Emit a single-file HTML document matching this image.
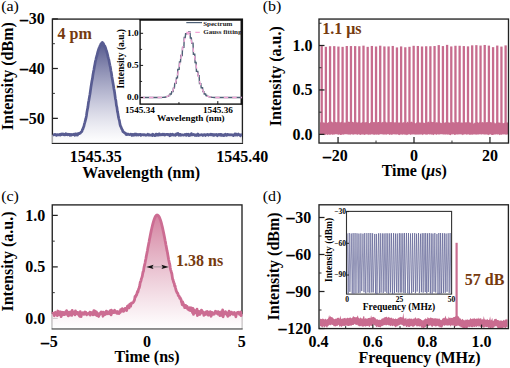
<!DOCTYPE html>
<html><head><meta charset="utf-8"><style>
html,body{margin:0;padding:0;background:#fff;}
svg{display:block;font-family:'Liberation Serif',serif;}
</style></head><body>
<svg width="510" height="368" viewBox="0 0 510 368">
<rect width="510" height="368" fill="#fff"/>
<text transform="translate(10.00,10.60) scale(1,0.87)" font-size="16" text-anchor="middle" font-weight="normal" fill="#000" >(a)</text>
<defs><linearGradient id="ga" x1="0" y1="42" x2="0" y2="143" gradientUnits="userSpaceOnUse"><stop offset="0" stop-color="#53578c"/><stop offset="0.55" stop-color="#b4b5cf" stop-opacity="0.85"/><stop offset="1" stop-color="#ffffff" stop-opacity="0.6"/></linearGradient><linearGradient id="gc" x1="0" y1="215" x2="0" y2="329" gradientUnits="userSpaceOnUse"><stop offset="0" stop-color="#d3819f"/><stop offset="1" stop-color="#ffffff" stop-opacity="0.8"/></linearGradient></defs>
<rect x="52.4" y="19.1" width="190.0" height="124.20000000000002" fill="none" stroke="#222" stroke-width="1.35"/>
<line x1="52.40" y1="18.90" x2="57.90" y2="18.90" stroke="#222" stroke-width="1.25"/>
<text transform="translate(45.50,24.20) scale(1,1.0)" font-size="16" text-anchor="end" font-weight="bold" fill="#000" ><tspan dx="-0.7" dy="0.5" stroke="#000" stroke-width="0.3">–</tspan><tspan dx="0.7" dy="-0.5">30</tspan></text>
<line x1="52.40" y1="68.50" x2="57.90" y2="68.50" stroke="#222" stroke-width="1.25"/>
<text transform="translate(45.50,73.80) scale(1,1.0)" font-size="16" text-anchor="end" font-weight="bold" fill="#000" ><tspan dx="-0.7" dy="0.5" stroke="#000" stroke-width="0.3">–</tspan><tspan dx="0.7" dy="-0.5">40</tspan></text>
<line x1="52.40" y1="118.35" x2="57.90" y2="118.35" stroke="#222" stroke-width="1.25"/>
<text transform="translate(45.50,123.65) scale(1,1.0)" font-size="16" text-anchor="end" font-weight="bold" fill="#000" ><tspan dx="-0.7" dy="0.5" stroke="#000" stroke-width="0.3">–</tspan><tspan dx="0.7" dy="-0.5">50</tspan></text>
<line x1="52.40" y1="43.70" x2="54.90" y2="43.70" stroke="#333" stroke-width="1.0"/>
<line x1="52.40" y1="93.40" x2="54.90" y2="93.40" stroke="#333" stroke-width="1.0"/>
<polygon points="51.50,134.80 52.90,134.80 53.40,134.94 53.90,134.68 54.40,134.40 54.90,134.60 55.40,134.36 55.90,134.83 56.40,135.41 56.90,134.58 57.40,134.52 57.90,135.02 58.40,134.96 58.90,134.85 59.40,134.38 59.90,134.79 60.40,135.12 60.90,134.20 61.40,134.60 61.90,133.95 62.40,134.22 62.90,133.97 63.40,134.70 63.90,134.23 64.40,134.92 64.90,134.87 65.40,134.72 65.90,133.67 66.40,134.56 66.90,134.78 67.40,134.85 67.90,134.11 68.40,134.58 68.90,134.35 69.40,134.42 69.90,135.26 70.40,134.41 70.90,134.76 71.40,135.16 71.90,134.49 72.40,134.69 72.90,134.77 73.40,134.73 73.90,134.13 74.40,134.68 74.90,135.22 75.40,133.87 75.90,134.89 76.40,134.49 76.90,134.05 77.40,135.13 77.90,134.44 78.40,133.38 78.90,133.74 79.40,133.70 79.90,133.03 80.40,133.01 80.90,132.18 81.40,131.89 81.90,131.50 82.40,129.65 82.90,128.98 83.40,127.42 83.90,126.21 84.40,123.93 84.90,122.29 85.40,120.32 85.90,118.45 86.40,115.99 86.90,112.14 87.40,109.48 87.90,107.10 88.40,102.78 88.90,100.27 89.40,97.20 89.90,94.55 90.40,91.04 90.90,87.36 91.40,84.15 91.90,81.08 92.40,78.82 92.90,74.96 93.40,72.13 93.90,69.65 94.40,66.76 94.90,64.16 95.40,61.31 95.90,59.49 96.40,57.11 96.90,55.79 97.40,53.65 97.90,51.58 98.40,50.28 98.90,48.37 99.40,47.70 99.90,46.09 100.40,45.40 100.90,43.78 101.40,43.93 101.90,42.65 102.40,42.39 102.90,43.39 103.40,43.58 103.90,44.72 104.40,46.51 104.90,46.15 105.40,47.44 105.90,49.18 106.40,50.83 106.90,52.20 107.40,54.01 107.90,56.38 108.40,58.40 108.90,59.94 109.40,62.74 109.90,65.28 110.40,67.39 110.90,70.70 111.40,73.03 111.90,76.77 112.40,79.43 112.90,82.47 113.40,85.32 113.90,88.74 114.40,91.13 114.90,94.78 115.40,98.70 115.90,100.81 116.40,105.32 116.90,107.24 117.40,111.35 117.90,113.47 118.40,116.88 118.90,119.07 119.40,120.60 119.90,123.90 120.40,125.82 120.90,126.74 121.40,128.03 121.90,129.27 122.40,129.90 122.90,131.66 123.40,131.61 123.90,132.40 124.40,132.52 124.90,132.97 125.40,132.98 125.90,134.36 126.40,133.93 126.90,134.59 127.40,134.29 127.90,134.07 128.40,134.32 128.90,134.28 129.40,134.59 129.90,134.46 130.40,134.52 130.90,134.07 131.40,134.35 131.90,135.47 132.40,134.44 132.90,134.28 133.40,134.92 133.90,135.41 134.40,134.12 134.90,134.69 135.40,134.50 135.90,134.00 136.40,135.12 136.90,134.79 137.40,134.83 137.90,134.46 138.40,135.00 138.90,134.56 139.40,134.74 139.90,134.30 140.40,134.26 140.90,135.40 141.40,134.57 141.90,134.93 142.40,134.79 142.90,134.60 143.40,134.57 143.90,135.09 144.40,134.67 144.90,134.74 145.40,134.81 145.90,135.33 146.40,135.11 146.90,134.98 147.40,134.55 147.90,134.18 148.40,135.23 148.90,135.24 149.40,134.74 149.90,135.05 150.40,135.16 150.90,135.18 151.40,135.22 151.90,134.60 152.40,135.49 152.90,134.24 153.40,135.19 153.90,135.03 154.40,135.20 154.90,135.65 155.40,135.47 155.90,134.29 156.40,134.04 156.90,135.17 157.40,134.35 157.90,134.80 158.40,135.18 158.90,134.06 159.40,133.85 159.90,134.92 160.40,134.82 160.90,134.69 161.40,134.82 161.90,134.42 162.40,134.12 162.90,134.73 163.40,134.37 163.90,134.06 164.40,135.03 164.90,134.78 165.40,134.99 165.90,134.36 166.40,134.51 166.90,134.35 167.40,134.40 167.90,134.89 168.40,134.45 168.90,134.96 169.40,134.96 169.90,135.72 170.40,134.18 170.90,135.20 171.40,134.76 171.90,134.80 172.40,134.15 172.90,134.60 173.40,135.14 173.90,134.77 174.40,134.84 174.90,134.67 175.40,135.32 175.90,134.79 176.40,133.81 176.90,134.49 177.40,133.92 177.90,133.34 178.40,134.57 178.90,135.40 179.40,134.82 179.90,134.28 180.40,134.38 180.90,135.31 181.40,134.87 181.90,134.83 182.40,134.78 182.90,134.82 183.40,135.17 183.90,135.05 184.40,134.90 184.90,134.33 185.40,135.03 185.90,134.50 186.40,135.30 186.90,134.23 187.40,134.74 187.90,134.80 188.40,134.21 188.90,135.58 189.40,135.46 189.90,134.60 190.40,135.15 190.90,134.97 191.40,133.63 191.90,134.92 192.40,134.78 192.90,134.84 193.40,134.32 193.90,134.68 194.40,134.72 194.90,135.34 195.40,134.95 195.90,134.80 196.40,135.49 196.90,134.55 197.40,134.63 197.90,133.99 198.40,135.51 198.90,135.24 199.40,135.22 199.90,135.10 200.40,134.85 200.90,134.90 201.40,134.69 201.90,134.71 202.40,134.83 202.90,135.48 203.40,135.05 203.90,134.78 204.40,134.54 204.90,134.52 205.40,135.52 205.90,135.03 206.40,134.83 206.90,134.65 207.40,134.30 207.90,134.77 208.40,135.20 208.90,134.63 209.40,134.70 209.90,134.70 210.40,134.85 210.90,134.09 211.40,134.70 211.90,134.42 212.40,135.20 212.90,134.46 213.40,135.06 213.90,135.49 214.40,134.66 214.90,134.53 215.40,134.89 215.90,134.80 216.40,134.36 216.90,135.01 217.40,135.71 217.90,134.69 218.40,134.71 218.90,134.33 219.40,134.95 219.90,134.24 220.40,134.31 220.90,135.38 221.40,134.40 221.90,135.29 222.40,135.49 222.90,134.92 223.40,135.05 223.90,135.68 224.40,134.72 224.90,134.54 225.40,134.19 225.90,134.82 226.40,135.47 226.90,135.24 227.40,134.38 227.90,134.42 228.40,134.58 228.90,134.94 229.40,134.71 229.90,134.90 230.40,134.94 230.90,134.67 231.40,134.79 231.90,134.90 232.40,134.77 232.90,135.03 233.40,135.65 233.90,135.07 234.40,134.83 234.90,134.04 235.40,134.98 235.90,133.93 236.40,134.17 236.90,135.19 237.40,135.12 237.90,134.74 238.40,134.03 238.90,134.64 239.40,134.50 239.90,135.09 240.40,135.82 240.90,134.90 241.40,134.45 241.90,134.28 242.40,142.90 51.50,142.90" fill="url(#ga)"/>
<polyline points="52.90,134.80 53.40,134.94 53.90,134.68 54.40,134.40 54.90,134.60 55.40,134.36 55.90,134.83 56.40,135.41 56.90,134.58 57.40,134.52 57.90,135.02 58.40,134.96 58.90,134.85 59.40,134.38 59.90,134.79 60.40,135.12 60.90,134.20 61.40,134.60 61.90,133.95 62.40,134.22 62.90,133.97 63.40,134.70 63.90,134.23 64.40,134.92 64.90,134.87 65.40,134.72 65.90,133.67 66.40,134.56 66.90,134.78 67.40,134.85 67.90,134.11 68.40,134.58 68.90,134.35 69.40,134.42 69.90,135.26 70.40,134.41 70.90,134.76 71.40,135.16 71.90,134.49 72.40,134.69 72.90,134.77 73.40,134.73 73.90,134.13 74.40,134.68 74.90,135.22 75.40,133.87 75.90,134.89 76.40,134.49 76.90,134.05 77.40,135.13 77.90,134.44 78.40,133.38 78.90,133.74 79.40,133.70 79.90,133.03 80.40,133.01 80.90,132.18 81.40,131.89 81.90,131.50 82.40,129.65 82.90,128.98 83.40,127.42 83.90,126.21 84.40,123.93 84.90,122.29 85.40,120.32 85.90,118.45 86.40,115.99 86.90,112.14 87.40,109.48 87.90,107.10 88.40,102.78 88.90,100.27 89.40,97.20 89.90,94.55 90.40,91.04 90.90,87.36 91.40,84.15 91.90,81.08 92.40,78.82 92.90,74.96 93.40,72.13 93.90,69.65 94.40,66.76 94.90,64.16 95.40,61.31 95.90,59.49 96.40,57.11 96.90,55.79 97.40,53.65 97.90,51.58 98.40,50.28 98.90,48.37 99.40,47.70 99.90,46.09 100.40,45.40 100.90,43.78 101.40,43.93 101.90,42.65 102.40,42.39 102.90,43.39 103.40,43.58 103.90,44.72 104.40,46.51 104.90,46.15 105.40,47.44 105.90,49.18 106.40,50.83 106.90,52.20 107.40,54.01 107.90,56.38 108.40,58.40 108.90,59.94 109.40,62.74 109.90,65.28 110.40,67.39 110.90,70.70 111.40,73.03 111.90,76.77 112.40,79.43 112.90,82.47 113.40,85.32 113.90,88.74 114.40,91.13 114.90,94.78 115.40,98.70 115.90,100.81 116.40,105.32 116.90,107.24 117.40,111.35 117.90,113.47 118.40,116.88 118.90,119.07 119.40,120.60 119.90,123.90 120.40,125.82 120.90,126.74 121.40,128.03 121.90,129.27 122.40,129.90 122.90,131.66 123.40,131.61 123.90,132.40 124.40,132.52 124.90,132.97 125.40,132.98 125.90,134.36 126.40,133.93 126.90,134.59 127.40,134.29 127.90,134.07 128.40,134.32 128.90,134.28 129.40,134.59 129.90,134.46 130.40,134.52 130.90,134.07 131.40,134.35 131.90,135.47 132.40,134.44 132.90,134.28 133.40,134.92 133.90,135.41 134.40,134.12 134.90,134.69 135.40,134.50 135.90,134.00 136.40,135.12 136.90,134.79 137.40,134.83 137.90,134.46 138.40,135.00 138.90,134.56 139.40,134.74 139.90,134.30 140.40,134.26 140.90,135.40 141.40,134.57 141.90,134.93 142.40,134.79 142.90,134.60 143.40,134.57 143.90,135.09 144.40,134.67 144.90,134.74 145.40,134.81 145.90,135.33 146.40,135.11 146.90,134.98 147.40,134.55 147.90,134.18 148.40,135.23 148.90,135.24 149.40,134.74 149.90,135.05 150.40,135.16 150.90,135.18 151.40,135.22 151.90,134.60 152.40,135.49 152.90,134.24 153.40,135.19 153.90,135.03 154.40,135.20 154.90,135.65 155.40,135.47 155.90,134.29 156.40,134.04 156.90,135.17 157.40,134.35 157.90,134.80 158.40,135.18 158.90,134.06 159.40,133.85 159.90,134.92 160.40,134.82 160.90,134.69 161.40,134.82 161.90,134.42 162.40,134.12 162.90,134.73 163.40,134.37 163.90,134.06 164.40,135.03 164.90,134.78 165.40,134.99 165.90,134.36 166.40,134.51 166.90,134.35 167.40,134.40 167.90,134.89 168.40,134.45 168.90,134.96 169.40,134.96 169.90,135.72 170.40,134.18 170.90,135.20 171.40,134.76 171.90,134.80 172.40,134.15 172.90,134.60 173.40,135.14 173.90,134.77 174.40,134.84 174.90,134.67 175.40,135.32 175.90,134.79 176.40,133.81 176.90,134.49 177.40,133.92 177.90,133.34 178.40,134.57 178.90,135.40 179.40,134.82 179.90,134.28 180.40,134.38 180.90,135.31 181.40,134.87 181.90,134.83 182.40,134.78 182.90,134.82 183.40,135.17 183.90,135.05 184.40,134.90 184.90,134.33 185.40,135.03 185.90,134.50 186.40,135.30 186.90,134.23 187.40,134.74 187.90,134.80 188.40,134.21 188.90,135.58 189.40,135.46 189.90,134.60 190.40,135.15 190.90,134.97 191.40,133.63 191.90,134.92 192.40,134.78 192.90,134.84 193.40,134.32 193.90,134.68 194.40,134.72 194.90,135.34 195.40,134.95 195.90,134.80 196.40,135.49 196.90,134.55 197.40,134.63 197.90,133.99 198.40,135.51 198.90,135.24 199.40,135.22 199.90,135.10 200.40,134.85 200.90,134.90 201.40,134.69 201.90,134.71 202.40,134.83 202.90,135.48 203.40,135.05 203.90,134.78 204.40,134.54 204.90,134.52 205.40,135.52 205.90,135.03 206.40,134.83 206.90,134.65 207.40,134.30 207.90,134.77 208.40,135.20 208.90,134.63 209.40,134.70 209.90,134.70 210.40,134.85 210.90,134.09 211.40,134.70 211.90,134.42 212.40,135.20 212.90,134.46 213.40,135.06 213.90,135.49 214.40,134.66 214.90,134.53 215.40,134.89 215.90,134.80 216.40,134.36 216.90,135.01 217.40,135.71 217.90,134.69 218.40,134.71 218.90,134.33 219.40,134.95 219.90,134.24 220.40,134.31 220.90,135.38 221.40,134.40 221.90,135.29 222.40,135.49 222.90,134.92 223.40,135.05 223.90,135.68 224.40,134.72 224.90,134.54 225.40,134.19 225.90,134.82 226.40,135.47 226.90,135.24 227.40,134.38 227.90,134.42 228.40,134.58 228.90,134.94 229.40,134.71 229.90,134.90 230.40,134.94 230.90,134.67 231.40,134.79 231.90,134.90 232.40,134.77 232.90,135.03 233.40,135.65 233.90,135.07 234.40,134.83 234.90,134.04 235.40,134.98 235.90,133.93 236.40,134.17 236.90,135.19 237.40,135.12 237.90,134.74 238.40,134.03 238.90,134.64 239.40,134.50 239.90,135.09 240.40,135.82 240.90,134.90 241.40,134.45 241.90,134.28" fill="none" stroke="#585c92" stroke-width="2.7" stroke-linejoin="round"/>
<text transform="translate(95.70,162.00) scale(1,1.0)" font-size="16" text-anchor="middle" font-weight="bold" fill="#000" >1545.35</text>
<text transform="translate(242.20,162.00) scale(1,1.0)" font-size="16" text-anchor="middle" font-weight="bold" fill="#000" >1545.40</text>
<text transform="translate(141.20,177.50) scale(1,1.0)" font-size="16" text-anchor="middle" font-weight="bold" fill="#000" >Wavelength (nm)</text>
<text transform="translate(13.00,76.20) rotate(-90) scale(1,1.0)" font-size="16" text-anchor="middle" font-weight="bold" fill="#000">Intensity (dBm)</text>
<text transform="translate(57.50,38.70) scale(1,1.0)" font-size="16" text-anchor="start" font-weight="bold" fill="#763a0e" >4 pm</text>
<rect x="140.1" y="19.8" width="101.5" height="84.3" fill="#fff" stroke="#111" stroke-width="1.4"/>
<line x1="241.60" y1="19.00" x2="241.60" y2="104.60" stroke="#111" stroke-width="2.0"/>
<line x1="139.60" y1="19.80" x2="241.60" y2="19.80" stroke="#111" stroke-width="1.6"/>
<polyline points="140.49,97.50 140.83,97.50 141.17,97.50 141.51,97.50 141.85,97.50 142.18,97.50 142.52,97.50 142.86,97.50 143.20,97.50 143.54,97.50 143.88,97.50 144.22,97.50 144.56,97.50 144.90,97.50 145.24,97.50 145.58,97.50 145.91,97.50 146.25,97.50 146.59,97.50 146.93,97.50 147.27,97.50 147.61,97.50 147.95,97.50 148.29,97.50 148.63,97.50 148.97,97.50 149.31,97.50 149.64,97.50 149.98,97.50 150.32,97.50 150.66,97.50 151.00,97.50 151.34,97.50 151.68,97.50 152.02,97.50 152.36,97.50 152.70,97.50 153.04,97.50 153.38,97.50 153.71,97.50 154.05,97.50 154.39,97.50 154.73,97.50 155.07,97.50 155.41,97.50 155.75,97.50 156.09,97.50 156.43,97.50 156.77,97.50 157.11,97.50 157.44,97.50 157.78,97.49 158.12,97.49 158.46,97.49 158.80,97.49 159.14,97.47 159.48,97.47 159.82,97.47 160.16,97.47 160.50,97.47 160.84,97.44 161.18,97.44 161.51,97.44 161.85,97.44 162.19,97.36 162.53,97.36 162.87,97.36 163.21,97.36 163.55,97.36 163.89,97.20 164.23,97.20 164.57,97.20 164.91,97.20 165.24,97.20 165.58,96.91 165.92,96.91 166.26,96.91 166.60,96.91 166.94,96.37 167.28,96.37 167.62,96.37 167.96,96.37 168.30,96.37 168.64,95.44 168.98,95.44 169.31,95.44 169.65,95.44 169.99,93.93 170.33,93.93 170.67,93.93 171.01,93.93 171.35,93.93 171.69,91.61 172.03,91.61 172.37,91.61 172.71,91.61 173.04,91.61 173.38,88.17 173.72,88.17 174.06,88.17 174.40,88.17 174.74,83.39 175.08,83.39 175.42,83.39 175.76,83.39 176.10,83.39 176.44,77.85 176.77,77.85 177.11,77.85 177.45,77.85 177.79,69.35 178.13,69.35 178.47,69.35 178.81,69.35 179.15,69.35 179.49,61.91 179.83,61.91 180.17,61.91 180.51,61.91 180.84,55.55 181.18,55.55 181.52,55.55 181.86,55.55 182.20,55.55 182.54,47.41 182.88,47.41 183.22,47.41 183.56,47.41 183.90,47.41 184.24,37.51 184.57,37.51 184.91,37.51 185.25,37.51 185.59,33.80 185.93,33.80 186.27,33.80 186.61,33.80 186.95,33.80 187.29,33.30 187.63,33.30 187.97,33.30 188.31,33.30 188.64,31.86 188.98,31.86 189.32,31.86 189.66,31.86 190.00,31.86 190.34,37.93 190.68,37.93 191.02,37.93 191.36,37.93 191.70,43.29 192.04,43.29 192.37,43.29 192.71,43.29 193.05,43.29 193.39,54.28 193.73,54.28 194.07,54.28 194.41,54.28 194.75,54.28 195.09,62.53 195.43,62.53 195.77,62.53 196.11,62.53 196.44,71.40 196.78,71.40 197.12,71.40 197.46,71.40 197.80,71.40 198.14,75.82 198.48,75.82 198.82,75.82 199.16,75.82 199.50,83.67 199.84,83.67 200.17,83.67 200.51,83.67 200.85,83.67 201.19,87.71 201.53,87.71 201.87,87.71 202.21,87.71 202.55,87.71 202.89,91.61 203.23,91.61 203.57,91.61 203.90,91.61 204.24,93.93 204.58,93.93 204.92,93.93 205.26,93.93 205.60,93.93 205.94,95.44 206.28,95.44 206.62,95.44 206.96,95.44 207.30,96.37 207.64,96.37 207.97,96.37 208.31,96.37 208.65,96.37 208.99,96.91 209.33,96.91 209.67,96.91 210.01,96.91 210.35,97.20 210.69,97.20 211.03,97.20 211.37,97.20 211.70,97.20 212.04,97.36 212.38,97.36 212.72,97.36 213.06,97.36 213.40,97.36 213.74,97.44 214.08,97.44 214.42,97.44 214.76,97.44 215.10,97.47 215.44,97.47 215.77,97.47 216.11,97.47 216.45,97.47 216.79,97.49 217.13,97.49 217.47,97.49 217.81,97.49 218.15,97.50 218.49,97.50 218.83,97.50 219.17,97.50 219.50,97.50 219.84,97.50 220.18,97.50 220.52,97.50 220.86,97.50 221.20,97.50 221.54,97.50 221.88,97.50 222.22,97.50 222.56,97.50 222.90,97.50 223.24,97.50 223.57,97.50 223.91,97.50 224.25,97.50 224.59,97.50 224.93,97.50 225.27,97.50 225.61,97.50 225.95,97.50 226.29,97.50 226.63,97.50 226.97,97.50 227.30,97.50 227.64,97.50 227.98,97.50 228.32,97.50 228.66,97.50 229.00,97.50 229.34,97.50 229.68,97.50 230.02,97.50 230.36,97.50 230.70,97.50 231.03,97.50 231.37,97.50 231.71,97.50 232.05,97.50 232.39,97.50 232.73,97.50 233.07,97.50 233.41,97.50 233.75,97.50 234.09,97.50 234.43,97.50 234.77,97.50 235.10,97.50 235.44,97.50 235.78,97.50 236.12,97.50 236.46,97.50 236.80,97.50 237.14,97.50 237.48,97.50 237.82,97.50 238.16,97.50 238.50,97.50 238.83,97.50 239.17,97.50 239.51,97.50 239.85,97.50 240.19,97.50 240.53,97.50 240.87,97.50 241.21,97.50 241.55,97.50 241.89,97.50" fill="none" stroke="#4e6076" stroke-width="1.4"/>
<polyline points="140.49,97.50 140.83,97.50 141.17,97.50 141.51,97.50 141.85,97.50 142.18,97.50 142.52,97.50 142.86,97.50 143.20,97.50 143.54,97.50 143.88,97.50 144.22,97.50 144.56,97.50 144.90,97.50 145.24,97.50 145.58,97.50 145.91,97.50 146.25,97.50 146.59,97.50 146.93,97.50 147.27,97.50 147.61,97.50 147.95,97.50 148.29,97.50 148.63,97.50 148.97,97.50 149.31,97.50 149.64,97.50 149.98,97.50 150.32,97.50 150.66,97.50 151.00,97.50 151.34,97.50 151.68,97.50 152.02,97.50 152.36,97.50 152.70,97.50 153.04,97.50 153.38,97.50 153.71,97.50 154.05,97.50 154.39,97.50 154.73,97.50 155.07,97.50 155.41,97.50 155.75,97.50 156.09,97.50 156.43,97.50 156.77,97.50 157.11,97.49 157.44,97.49 157.78,97.49 158.12,97.49 158.46,97.49 158.80,97.48 159.14,97.48 159.48,97.48 159.82,97.47 160.16,97.47 160.50,97.46 160.84,97.45 161.18,97.44 161.51,97.43 161.85,97.42 162.19,97.40 162.53,97.38 162.87,97.36 163.21,97.34 163.55,97.31 163.89,97.28 164.23,97.24 164.57,97.19 164.91,97.14 165.24,97.08 165.58,97.02 165.92,96.94 166.26,96.85 166.60,96.75 166.94,96.64 167.28,96.51 167.62,96.36 167.96,96.20 168.30,96.01 168.64,95.81 168.98,95.58 169.31,95.32 169.65,95.04 169.99,94.72 170.33,94.37 170.67,93.99 171.01,93.56 171.35,93.10 171.69,92.59 172.03,92.03 172.37,91.43 172.71,90.78 173.04,90.07 173.38,89.30 173.72,88.48 174.06,87.60 174.40,86.65 174.74,85.64 175.08,84.57 175.42,83.44 175.76,82.23 176.10,80.97 176.44,79.64 176.77,78.24 177.11,76.79 177.45,75.27 177.79,73.70 178.13,72.07 178.47,70.40 178.81,68.68 179.15,66.92 179.49,65.13 179.83,63.31 180.17,61.47 180.51,59.62 180.84,57.76 181.18,55.91 181.52,54.07 181.86,52.25 182.20,50.46 182.54,48.71 182.88,47.01 183.22,45.38 183.56,43.81 183.90,42.32 184.24,40.91 184.57,39.61 184.91,38.40 185.25,37.31 185.59,36.34 185.93,35.50 186.27,34.78 186.61,34.21 186.95,33.77 187.29,33.47 187.63,33.32 187.97,33.32 188.31,33.46 188.64,33.74 188.98,34.17 189.32,34.74 189.66,35.45 190.00,36.28 190.34,37.25 190.68,38.33 191.02,39.52 191.36,40.82 191.70,42.22 192.04,43.70 192.37,45.27 192.71,46.90 193.05,48.60 193.39,50.34 193.73,52.13 194.07,53.94 194.41,55.78 194.75,57.64 195.09,59.49 195.43,61.35 195.77,63.19 196.11,65.01 196.44,66.80 196.78,68.56 197.12,70.29 197.46,71.96 197.80,73.59 198.14,75.17 198.48,76.69 198.82,78.15 199.16,79.55 199.50,80.88 199.84,82.15 200.17,83.36 200.51,84.50 200.85,85.57 201.19,86.59 201.53,87.54 201.87,88.42 202.21,89.25 202.55,90.02 202.89,90.73 203.23,91.39 203.57,91.99 203.90,92.55 204.24,93.06 204.58,93.53 204.92,93.96 205.26,94.35 205.60,94.70 205.94,95.02 206.28,95.30 206.62,95.56 206.96,95.79 207.30,96.00 207.64,96.19 207.97,96.35 208.31,96.50 208.65,96.63 208.99,96.74 209.33,96.84 209.67,96.93 210.01,97.01 210.35,97.08 210.69,97.14 211.03,97.19 211.37,97.23 211.70,97.27 212.04,97.31 212.38,97.34 212.72,97.36 213.06,97.38 213.40,97.40 213.74,97.42 214.08,97.43 214.42,97.44 214.76,97.45 215.10,97.46 215.44,97.47 215.77,97.47 216.11,97.48 216.45,97.48 216.79,97.48 217.13,97.49 217.47,97.49 217.81,97.49 218.15,97.49 218.49,97.49 218.83,97.50 219.17,97.50 219.50,97.50 219.84,97.50 220.18,97.50 220.52,97.50 220.86,97.50 221.20,97.50 221.54,97.50 221.88,97.50 222.22,97.50 222.56,97.50 222.90,97.50 223.24,97.50 223.57,97.50 223.91,97.50 224.25,97.50 224.59,97.50 224.93,97.50 225.27,97.50 225.61,97.50 225.95,97.50 226.29,97.50 226.63,97.50 226.97,97.50 227.30,97.50 227.64,97.50 227.98,97.50 228.32,97.50 228.66,97.50 229.00,97.50 229.34,97.50 229.68,97.50 230.02,97.50 230.36,97.50 230.70,97.50 231.03,97.50 231.37,97.50 231.71,97.50 232.05,97.50 232.39,97.50 232.73,97.50 233.07,97.50 233.41,97.50 233.75,97.50 234.09,97.50 234.43,97.50 234.77,97.50 235.10,97.50 235.44,97.50 235.78,97.50 236.12,97.50 236.46,97.50 236.80,97.50 237.14,97.50 237.48,97.50 237.82,97.50 238.16,97.50 238.50,97.50 238.83,97.50 239.17,97.50 239.51,97.50 239.85,97.50 240.19,97.50 240.53,97.50 240.87,97.50 241.21,97.50 241.55,97.50 241.89,97.50" fill="none" stroke="#f2a6d6" stroke-width="1.3" stroke-dasharray="4.5 4"/>
<line x1="140.10" y1="97.50" x2="143.10" y2="97.50" stroke="#111" stroke-width="1"/>
<text transform="translate(138.60,100.30) scale(1,1.0)" font-size="9.2" text-anchor="end" font-weight="bold" fill="#000" >0.0</text>
<line x1="140.10" y1="65.40" x2="143.10" y2="65.40" stroke="#111" stroke-width="1"/>
<text transform="translate(138.60,68.20) scale(1,1.0)" font-size="9.2" text-anchor="end" font-weight="bold" fill="#000" >0.5</text>
<line x1="140.10" y1="33.30" x2="143.10" y2="33.30" stroke="#111" stroke-width="1"/>
<text transform="translate(138.60,36.10) scale(1,1.0)" font-size="9.2" text-anchor="end" font-weight="bold" fill="#000" >1.0</text>
<line x1="140.10" y1="81.45" x2="142.10" y2="81.45" stroke="#111" stroke-width="0.9"/>
<line x1="140.10" y1="49.35" x2="142.10" y2="49.35" stroke="#111" stroke-width="0.9"/>
<line x1="217.80" y1="104.10" x2="217.80" y2="101.10" stroke="#111" stroke-width="1"/>
<line x1="178.95" y1="104.10" x2="178.95" y2="102.10" stroke="#111" stroke-width="0.9"/>
<text transform="translate(139.90,113.40) scale(1,1.0)" font-size="9.2" text-anchor="middle" font-weight="bold" fill="#000" >1545.34</text>
<text transform="translate(217.90,113.40) scale(1,1.0)" font-size="9.2" text-anchor="middle" font-weight="bold" fill="#000" >1545.36</text>
<text transform="translate(190.80,120.60) scale(1,1.0)" font-size="9.2" text-anchor="middle" font-weight="bold" fill="#000" >Wavelength (nm)</text>
<text transform="translate(124.00,58.70) rotate(-90) scale(1,1.0)" font-size="9.5" text-anchor="middle" font-weight="bold" fill="#000">Intensity (a.u.)</text>
<line x1="186.30" y1="22.60" x2="202.00" y2="22.60" stroke="#4e6076" stroke-width="1.2"/>
<line x1="186.3" y1="32.3" x2="202" y2="32.3" stroke="#f2a6d6" stroke-width="1.2" stroke-dasharray="4.5 4.5"/>
<text transform="translate(203.20,25.60) scale(1,1.0)" font-size="7" text-anchor="start" font-weight="bold" fill="#222" >Spectrum</text>
<text transform="translate(203.20,34.00) scale(1,1.0)" font-size="7" text-anchor="start" font-weight="bold" fill="#222" >Gauss fitting</text>
<text transform="translate(272.00,10.80) scale(1,0.87)" font-size="16" text-anchor="middle" font-weight="normal" fill="#000" >(b)</text>
<polygon points="320.00,122.01 320.70,122.59 321.40,122.29 322.10,122.02 322.80,122.69 323.50,122.32 324.20,122.70 324.90,122.38 325.60,121.86 326.30,122.35 327.00,122.43 327.70,122.88 328.40,121.95 329.10,122.38 329.80,121.54 330.50,122.73 331.20,121.86 331.90,121.50 332.60,122.37 333.30,122.95 334.00,121.64 334.70,121.86 335.40,122.03 336.10,121.84 336.80,122.59 337.50,122.00 338.20,122.04 338.90,122.69 339.60,122.02 340.30,122.62 341.00,121.91 341.70,121.79 342.40,121.48 343.10,123.33 343.80,122.24 344.50,122.52 345.20,122.38 345.90,122.48 346.60,122.42 347.30,123.35 348.00,121.88 348.70,121.62 349.40,121.89 350.10,121.73 350.80,122.77 351.50,122.81 352.20,121.92 352.90,121.70 353.60,122.22 354.30,123.10 355.00,120.99 355.70,122.66 356.40,121.86 357.10,122.92 357.80,121.86 358.50,122.26 359.20,121.65 359.90,121.91 360.60,123.09 361.30,122.81 362.00,122.20 362.70,121.96 363.40,121.45 364.10,122.20 364.80,122.38 365.50,122.36 366.20,122.35 366.90,121.84 367.60,122.37 368.30,122.38 369.00,123.05 369.70,123.33 370.40,122.33 371.10,122.02 371.80,122.37 372.50,122.10 373.20,122.03 373.90,122.37 374.60,121.88 375.30,122.70 376.00,122.35 376.70,122.53 377.40,122.31 378.10,122.04 378.80,121.93 379.50,122.28 380.20,122.13 380.90,122.52 381.60,122.40 382.30,121.72 383.00,122.43 383.70,121.73 384.40,122.09 385.10,122.25 385.80,121.36 386.50,122.45 387.20,122.48 387.90,122.32 388.60,122.19 389.30,122.21 390.00,121.91 390.70,122.27 391.40,122.12 392.10,122.45 392.80,121.80 393.50,122.52 394.20,122.47 394.90,122.33 395.60,122.18 396.30,122.68 397.00,121.57 397.70,122.63 398.40,122.52 399.10,122.54 399.80,122.59 400.50,122.07 401.20,122.27 401.90,122.72 402.60,122.62 403.30,122.50 404.00,121.64 404.70,122.67 405.40,122.98 406.10,122.90 406.80,122.52 407.50,121.62 408.20,122.87 408.90,122.33 409.60,121.13 410.30,122.59 411.00,121.65 411.70,121.75 412.40,122.08 413.10,123.04 413.80,122.21 414.50,122.54 415.20,123.27 415.90,123.20 416.60,122.35 417.30,122.28 418.00,121.77 418.70,122.05 419.40,122.61 420.10,122.60 420.80,122.46 421.50,122.90 422.20,122.01 422.90,122.37 423.60,122.77 424.30,122.69 425.00,122.94 425.70,122.60 426.40,122.25 427.10,122.58 427.80,121.90 428.50,121.58 429.20,122.69 429.90,122.37 430.60,122.55 431.30,121.55 432.00,122.22 432.70,122.10 433.40,121.97 434.10,121.27 434.80,122.23 435.50,122.85 436.20,122.59 436.90,122.10 437.60,122.39 438.30,122.78 439.00,121.02 439.70,122.34 440.40,122.67 441.10,122.74 441.80,123.25 442.50,122.97 443.20,122.56 443.90,122.55 444.60,122.79 445.30,122.13 446.00,122.38 446.70,122.85 447.40,123.38 448.10,122.32 448.80,122.38 449.50,122.50 450.20,123.07 450.90,122.38 451.60,123.13 452.30,121.92 453.00,122.31 453.70,122.30 454.40,122.79 455.10,122.92 455.80,121.65 456.50,121.94 457.20,122.57 457.90,122.07 458.60,121.64 459.30,122.92 460.00,122.65 460.70,122.65 461.40,122.16 462.10,122.91 462.80,122.28 463.50,122.95 464.20,121.94 464.90,121.97 465.60,122.50 466.30,122.05 467.00,122.74 467.70,122.53 468.40,121.94 469.10,122.44 469.80,122.22 470.50,122.86 471.20,122.08 471.90,122.18 472.60,123.01 473.30,123.52 474.00,123.40 474.70,122.43 475.40,122.51 476.10,123.17 476.80,122.34 477.50,121.91 478.20,122.46 478.90,122.63 479.60,121.99 480.30,121.58 481.00,121.68 481.70,122.73 482.40,122.02 483.10,122.33 483.80,122.51 484.50,122.71 485.20,122.23 485.90,122.65 486.60,121.95 487.30,122.22 488.00,121.89 488.70,122.97 489.40,122.39 490.10,122.03 490.80,122.22 491.50,122.29 492.20,122.75 492.90,121.60 493.60,121.88 494.30,122.21 495.00,123.67 495.70,122.88 496.40,122.34 497.10,122.76 497.80,123.43 498.50,122.28 499.20,122.22 499.90,123.01 500.60,122.65 501.30,122.74 502.00,122.15 502.70,123.36 503.40,123.25 504.10,122.68 504.80,122.74 505.50,121.39 506.20,122.72 506.90,122.30 507.60,122.62 508.30,122.74 508.30,134.66 507.60,134.42 506.90,134.21 506.20,134.91 505.50,134.61 504.80,134.61 504.10,134.37 503.40,134.60 502.70,134.30 502.00,134.63 501.30,134.67 500.60,134.49 499.90,135.22 499.20,134.66 498.50,134.24 497.80,134.49 497.10,134.40 496.40,134.23 495.70,134.53 495.00,134.56 494.30,134.50 493.60,134.64 492.90,135.08 492.20,134.97 491.50,135.04 490.80,134.34 490.10,134.56 489.40,134.57 488.70,135.22 488.00,134.46 487.30,134.74 486.60,134.60 485.90,134.30 485.20,134.70 484.50,134.39 483.80,134.45 483.10,134.21 482.40,134.23 481.70,134.42 481.00,134.44 480.30,134.21 479.60,134.36 478.90,134.49 478.20,134.52 477.50,134.38 476.80,134.39 476.10,134.74 475.40,134.62 474.70,134.36 474.00,134.79 473.30,134.24 472.60,134.77 471.90,134.70 471.20,134.49 470.50,134.74 469.80,134.82 469.10,134.74 468.40,134.28 467.70,134.52 467.00,134.41 466.30,134.67 465.60,134.23 464.90,134.27 464.20,134.51 463.50,134.61 462.80,135.16 462.10,134.43 461.40,134.42 460.70,134.22 460.00,134.53 459.30,134.32 458.60,134.50 457.90,134.28 457.20,134.83 456.50,134.22 455.80,134.67 455.10,134.79 454.40,134.90 453.70,134.25 453.00,134.25 452.30,134.53 451.60,134.30 450.90,135.11 450.20,135.24 449.50,134.71 448.80,134.68 448.10,134.28 447.40,134.68 446.70,134.50 446.00,134.31 445.30,134.64 444.60,134.59 443.90,134.21 443.20,134.71 442.50,134.26 441.80,134.25 441.10,134.33 440.40,134.34 439.70,134.40 439.00,134.53 438.30,134.41 437.60,134.25 436.90,134.62 436.20,135.00 435.50,134.27 434.80,134.31 434.10,134.55 433.40,135.14 432.70,134.59 432.00,134.70 431.30,134.57 430.60,134.34 429.90,134.79 429.20,134.25 428.50,134.21 427.80,134.33 427.10,134.98 426.40,134.42 425.70,134.74 425.00,134.35 424.30,134.24 423.60,134.43 422.90,134.55 422.20,135.32 421.50,134.27 420.80,134.47 420.10,134.62 419.40,134.42 418.70,134.72 418.00,134.30 417.30,134.85 416.60,134.56 415.90,134.73 415.20,134.46 414.50,134.48 413.80,134.60 413.10,134.24 412.40,134.45 411.70,134.56 411.00,134.41 410.30,135.00 409.60,134.28 408.90,134.27 408.20,134.39 407.50,134.85 406.80,135.15 406.10,134.41 405.40,134.63 404.70,134.64 404.00,134.21 403.30,134.42 402.60,134.72 401.90,134.55 401.20,134.58 400.50,134.41 399.80,134.65 399.10,135.36 398.40,134.64 397.70,134.22 397.00,134.53 396.30,134.45 395.60,134.49 394.90,134.24 394.20,134.52 393.50,134.24 392.80,134.33 392.10,134.97 391.40,134.75 390.70,134.25 390.00,134.94 389.30,134.81 388.60,134.29 387.90,134.32 387.20,134.27 386.50,134.86 385.80,134.38 385.10,134.38 384.40,134.39 383.70,134.76 383.00,134.22 382.30,134.48 381.60,134.25 380.90,134.36 380.20,134.25 379.50,134.51 378.80,135.09 378.10,134.49 377.40,134.40 376.70,134.75 376.00,134.61 375.30,134.54 374.60,134.89 373.90,134.29 373.20,134.91 372.50,134.34 371.80,134.37 371.10,134.49 370.40,134.87 369.70,134.37 369.00,135.13 368.30,134.61 367.60,134.44 366.90,134.50 366.20,134.33 365.50,134.54 364.80,134.91 364.10,134.83 363.40,134.47 362.70,134.50 362.00,134.44 361.30,134.50 360.60,135.08 359.90,134.87 359.20,134.43 358.50,134.24 357.80,134.50 357.10,134.90 356.40,134.25 355.70,134.32 355.00,134.61 354.30,134.29 353.60,134.70 352.90,134.52 352.20,134.44 351.50,134.31 350.80,134.23 350.10,135.23 349.40,134.37 348.70,134.69 348.00,134.24 347.30,134.40 346.60,134.24 345.90,134.33 345.20,134.23 344.50,134.23 343.80,134.85 343.10,134.50 342.40,134.52 341.70,134.79 341.00,135.09 340.30,135.03 339.60,134.21 338.90,134.96 338.20,134.48 337.50,134.44 336.80,134.23 336.10,134.34 335.40,134.25 334.70,134.33 334.00,134.88 333.30,134.35 332.60,135.10 331.90,134.24 331.20,134.43 330.50,134.74 329.80,134.60 329.10,135.01 328.40,134.21 327.70,135.09 327.00,134.70 326.30,134.31 325.60,134.75 324.90,135.24 324.20,134.35 323.50,134.47 322.80,134.35 322.10,134.53 321.40,134.37 320.70,134.96 320.00,134.35" fill="#c76c8e"/>
<rect x="320.55" y="46.11" width="2.3" height="79.89" fill="#c76c8e"/>
<rect x="324.73" y="46.83" width="2.3" height="79.17" fill="#c76c8e"/>
<rect x="328.91" y="46.21" width="2.3" height="79.79" fill="#c76c8e"/>
<rect x="333.09" y="46.14" width="2.3" height="79.86" fill="#c76c8e"/>
<rect x="337.27" y="46.54" width="2.3" height="79.46" fill="#c76c8e"/>
<rect x="341.45" y="46.84" width="2.3" height="79.16" fill="#c76c8e"/>
<rect x="345.63" y="46.00" width="2.3" height="80.00" fill="#c76c8e"/>
<rect x="349.81" y="46.05" width="2.3" height="79.95" fill="#c76c8e"/>
<rect x="353.99" y="46.10" width="2.3" height="79.90" fill="#c76c8e"/>
<rect x="358.17" y="46.25" width="2.3" height="79.75" fill="#c76c8e"/>
<rect x="362.35" y="45.66" width="2.3" height="80.34" fill="#c76c8e"/>
<rect x="366.53" y="46.82" width="2.3" height="79.18" fill="#c76c8e"/>
<rect x="370.71" y="45.96" width="2.3" height="80.04" fill="#c76c8e"/>
<rect x="374.89" y="46.48" width="2.3" height="79.52" fill="#c76c8e"/>
<rect x="379.07" y="45.70" width="2.3" height="80.30" fill="#c76c8e"/>
<rect x="383.25" y="46.42" width="2.3" height="79.58" fill="#c76c8e"/>
<rect x="387.43" y="46.43" width="2.3" height="79.57" fill="#c76c8e"/>
<rect x="391.61" y="45.95" width="2.3" height="80.05" fill="#c76c8e"/>
<rect x="395.79" y="47.41" width="2.3" height="78.59" fill="#c76c8e"/>
<rect x="399.97" y="46.42" width="2.3" height="79.58" fill="#c76c8e"/>
<rect x="404.15" y="47.27" width="2.3" height="78.73" fill="#c76c8e"/>
<rect x="408.33" y="46.78" width="2.3" height="79.22" fill="#c76c8e"/>
<rect x="412.51" y="45.80" width="2.3" height="80.20" fill="#c76c8e"/>
<rect x="416.69" y="45.97" width="2.3" height="80.03" fill="#c76c8e"/>
<rect x="420.87" y="46.46" width="2.3" height="79.54" fill="#c76c8e"/>
<rect x="425.05" y="46.24" width="2.3" height="79.76" fill="#c76c8e"/>
<rect x="429.23" y="46.23" width="2.3" height="79.77" fill="#c76c8e"/>
<rect x="433.41" y="46.03" width="2.3" height="79.97" fill="#c76c8e"/>
<rect x="437.59" y="45.11" width="2.3" height="80.89" fill="#c76c8e"/>
<rect x="441.77" y="46.06" width="2.3" height="79.94" fill="#c76c8e"/>
<rect x="445.95" y="44.87" width="2.3" height="81.13" fill="#c76c8e"/>
<rect x="450.13" y="46.42" width="2.3" height="79.58" fill="#c76c8e"/>
<rect x="454.31" y="45.76" width="2.3" height="80.24" fill="#c76c8e"/>
<rect x="458.49" y="45.77" width="2.3" height="80.23" fill="#c76c8e"/>
<rect x="462.67" y="46.07" width="2.3" height="79.93" fill="#c76c8e"/>
<rect x="466.85" y="46.36" width="2.3" height="79.64" fill="#c76c8e"/>
<rect x="471.03" y="45.34" width="2.3" height="80.66" fill="#c76c8e"/>
<rect x="475.21" y="45.15" width="2.3" height="80.85" fill="#c76c8e"/>
<rect x="479.39" y="45.56" width="2.3" height="80.44" fill="#c76c8e"/>
<rect x="483.57" y="44.97" width="2.3" height="81.03" fill="#c76c8e"/>
<rect x="487.75" y="45.62" width="2.3" height="80.38" fill="#c76c8e"/>
<rect x="491.93" y="47.15" width="2.3" height="78.85" fill="#c76c8e"/>
<rect x="496.11" y="45.57" width="2.3" height="80.43" fill="#c76c8e"/>
<rect x="500.29" y="46.59" width="2.3" height="79.41" fill="#c76c8e"/>
<rect x="504.47" y="45.38" width="2.3" height="80.62" fill="#c76c8e"/>
<rect x="319.0" y="19.05" width="189.5" height="124.00000000000001" fill="none" stroke="#222" stroke-width="1.35"/>
<line x1="319.00" y1="134.40" x2="324.50" y2="134.40" stroke="#222" stroke-width="1.25"/>
<text transform="translate(312.50,139.70) scale(1,1.0)" font-size="16" text-anchor="end" font-weight="bold" fill="#000" >0.0</text>
<line x1="319.00" y1="89.95" x2="324.50" y2="89.95" stroke="#222" stroke-width="1.25"/>
<text transform="translate(312.50,95.25) scale(1,1.0)" font-size="16" text-anchor="end" font-weight="bold" fill="#000" >0.5</text>
<line x1="319.00" y1="45.50" x2="324.50" y2="45.50" stroke="#222" stroke-width="1.25"/>
<text transform="translate(312.50,50.80) scale(1,1.0)" font-size="16" text-anchor="end" font-weight="bold" fill="#000" >1.0</text>
<line x1="319.00" y1="112.18" x2="321.50" y2="112.18" stroke="#333" stroke-width="1.0"/>
<line x1="319.00" y1="67.72" x2="321.50" y2="67.72" stroke="#333" stroke-width="1.0"/>
<line x1="319.00" y1="23.28" x2="321.50" y2="23.28" stroke="#333" stroke-width="1.0"/>
<line x1="338.05" y1="143.05" x2="338.05" y2="137.05" stroke="#222" stroke-width="1.25"/>
<text transform="translate(336.05,161.40) scale(1,1.0)" font-size="16" text-anchor="middle" font-weight="bold" fill="#000" ><tspan dx="-0.7" dy="0.5" stroke="#000" stroke-width="0.3">–</tspan><tspan dx="0.7" dy="-0.5">20</tspan></text>
<line x1="414.00" y1="143.05" x2="414.00" y2="137.05" stroke="#222" stroke-width="1.25"/>
<text transform="translate(414.00,161.40) scale(1,1.0)" font-size="16" text-anchor="middle" font-weight="bold" fill="#000" >0</text>
<line x1="489.95" y1="143.05" x2="489.95" y2="137.05" stroke="#222" stroke-width="1.25"/>
<text transform="translate(489.95,161.40) scale(1,1.0)" font-size="16" text-anchor="middle" font-weight="bold" fill="#000" >20</text>
<line x1="376.02" y1="143.05" x2="376.02" y2="140.55" stroke="#333" stroke-width="1.0"/>
<line x1="451.98" y1="143.05" x2="451.98" y2="140.55" stroke="#333" stroke-width="1.0"/>
<text transform="translate(414.2,175.8) scale(1,1.0)" font-size="16" text-anchor="middle" font-weight="bold">Time (<tspan font-style="italic">μ</tspan>s)</text>
<text transform="translate(280.80,76.20) rotate(-90) scale(1,1.0)" font-size="16" text-anchor="middle" font-weight="bold" fill="#000">Intensity (a.u.)</text>
<text transform="translate(322.30,33.50) scale(1,1.0)" font-size="16" text-anchor="start" font-weight="bold" fill="#763a0e" >1.1 μs</text>
<text transform="translate(10.00,200.60) scale(1,0.87)" font-size="16" text-anchor="middle" font-weight="normal" fill="#000" >(c)</text>
<rect x="52.25" y="204.9" width="189.75" height="123.9" fill="none" stroke="#222" stroke-width="1.35"/>
<line x1="52.25" y1="318.40" x2="57.75" y2="318.40" stroke="#222" stroke-width="1.25"/>
<text transform="translate(45.20,323.70) scale(1,1.0)" font-size="16" text-anchor="end" font-weight="bold" fill="#000" >0.0</text>
<line x1="52.25" y1="266.90" x2="57.75" y2="266.90" stroke="#222" stroke-width="1.25"/>
<text transform="translate(45.20,272.20) scale(1,1.0)" font-size="16" text-anchor="end" font-weight="bold" fill="#000" >0.5</text>
<line x1="52.25" y1="215.40" x2="57.75" y2="215.40" stroke="#222" stroke-width="1.25"/>
<text transform="translate(45.20,220.70) scale(1,1.0)" font-size="16" text-anchor="end" font-weight="bold" fill="#000" >1.0</text>
<line x1="52.25" y1="292.65" x2="54.75" y2="292.65" stroke="#333" stroke-width="1.0"/>
<line x1="52.25" y1="241.15" x2="54.75" y2="241.15" stroke="#333" stroke-width="1.0"/>
<polygon points="51.35,313.87 52.65,313.87 53.05,313.10 53.45,313.43 53.85,314.21 54.25,315.70 54.65,313.74 55.05,313.66 55.45,312.28 55.85,314.23 56.25,313.19 56.65,314.54 57.05,313.45 57.45,315.68 57.85,311.02 58.25,313.13 58.65,314.60 59.05,313.06 59.45,312.51 59.85,313.17 60.25,311.77 60.65,313.65 61.05,316.55 61.45,314.93 61.85,312.11 62.25,312.41 62.65,312.99 63.05,314.75 63.45,312.47 63.85,312.64 64.25,314.61 64.65,314.58 65.05,313.03 65.45,312.10 65.85,311.56 66.25,312.63 66.65,310.71 67.05,314.44 67.45,312.71 67.85,314.10 68.25,315.83 68.65,314.96 69.05,312.06 69.45,314.58 69.85,314.95 70.25,312.57 70.65,312.31 71.05,313.36 71.45,311.50 71.85,315.34 72.25,310.49 72.65,312.11 73.05,313.16 73.45,313.21 73.85,313.70 74.25,313.84 74.65,313.23 75.05,314.92 75.45,310.82 75.85,313.50 76.25,312.60 76.65,313.66 77.05,313.77 77.45,312.36 77.85,312.69 78.25,314.49 78.65,313.93 79.05,312.64 79.45,316.04 79.85,316.38 80.25,311.67 80.65,313.87 81.05,316.63 81.45,314.47 81.85,313.77 82.25,313.23 82.65,312.81 83.05,313.22 83.45,312.80 83.85,314.42 84.25,312.99 84.65,312.94 85.05,311.98 85.45,313.42 85.85,312.37 86.25,313.26 86.65,314.78 87.05,313.94 87.45,314.11 87.85,313.92 88.25,313.55 88.65,313.32 89.05,313.09 89.45,314.42 89.85,312.12 90.25,315.15 90.65,313.51 91.05,312.53 91.45,312.85 91.85,312.62 92.25,313.66 92.65,312.56 93.05,314.88 93.45,312.48 93.85,310.61 94.25,312.54 94.65,310.94 95.05,313.39 95.45,314.76 95.85,314.24 96.25,311.76 96.65,312.48 97.05,315.64 97.45,313.82 97.85,313.42 98.25,314.73 98.65,316.46 99.05,315.01 99.45,313.56 99.85,313.83 100.25,314.15 100.65,312.61 101.05,312.04 101.45,313.42 101.85,312.17 102.25,313.26 102.65,313.45 103.05,316.23 103.45,312.25 103.85,313.14 104.25,313.08 104.65,313.82 105.05,314.56 105.45,312.63 105.85,312.21 106.25,311.18 106.65,312.05 107.05,313.85 107.45,313.22 107.85,311.88 108.25,312.66 108.65,313.14 109.05,313.70 109.45,312.32 109.85,312.71 110.25,310.75 110.65,311.54 111.05,314.94 111.45,310.20 111.85,312.45 112.25,313.10 112.65,312.33 113.05,311.76 113.45,312.63 113.85,312.66 114.25,312.51 114.65,310.26 115.05,312.33 115.45,311.40 115.85,311.72 116.25,312.60 116.65,313.04 117.05,313.28 117.45,311.50 117.85,313.15 118.25,313.36 118.65,313.23 119.05,313.43 119.45,311.48 119.85,311.34 120.25,312.42 120.65,309.68 121.05,311.44 121.45,310.43 121.85,310.48 122.25,308.71 122.65,309.56 123.05,310.42 123.45,311.31 123.85,311.24 124.25,309.80 124.65,309.46 125.05,308.51 125.45,309.69 125.85,308.71 126.25,309.42 126.65,310.43 127.05,308.14 127.45,306.21 127.85,306.61 128.25,305.62 128.65,305.56 129.05,307.90 129.45,306.34 129.85,304.07 130.25,305.93 130.65,306.10 131.05,303.93 131.45,303.11 131.85,302.92 132.25,302.98 132.65,302.73 133.05,302.62 133.45,301.97 133.85,301.24 134.25,300.66 134.65,299.25 135.05,296.50 135.45,296.91 135.85,296.42 136.25,294.92 136.65,295.02 137.05,293.00 137.45,291.52 137.85,292.22 138.25,290.49 138.65,288.97 139.05,288.21 139.45,286.99 139.85,285.17 140.25,282.07 140.65,281.73 141.05,280.37 141.45,278.55 141.85,277.57 142.25,276.39 142.65,273.89 143.05,271.87 143.45,271.36 143.85,268.53 144.25,266.37 144.65,264.93 145.05,263.00 145.45,260.66 145.85,258.99 146.25,256.60 146.65,254.42 147.05,252.51 147.45,250.46 147.85,248.10 148.25,246.08 148.65,243.88 149.05,242.02 149.45,239.59 149.85,237.66 150.25,235.53 150.65,233.53 151.05,231.62 151.45,229.75 151.85,227.95 152.25,226.21 152.65,224.58 153.05,223.06 153.45,221.65 153.85,220.36 154.25,219.19 154.65,218.15 155.05,217.26 155.45,216.50 155.85,215.90 156.25,215.45 156.65,215.15 157.05,215.01 157.45,215.03 157.85,215.21 158.25,215.54 158.65,216.03 159.05,216.68 159.45,217.47 159.85,218.40 160.25,219.47 160.65,220.67 161.05,221.99 161.45,223.43 161.85,224.98 162.25,226.66 162.65,228.33 163.05,230.19 163.45,232.04 163.85,234.04 164.25,236.08 164.65,238.08 165.05,240.24 165.45,242.14 165.85,244.55 166.25,246.49 166.65,248.81 167.05,250.90 167.45,252.53 167.85,254.98 168.25,257.29 168.65,259.71 169.05,261.44 169.45,263.45 169.85,264.88 170.25,267.78 170.65,269.85 171.05,271.02 171.45,272.70 171.85,273.80 172.25,276.66 172.65,279.25 173.05,279.85 173.45,281.71 173.85,282.80 174.25,283.31 174.65,286.14 175.05,285.80 175.45,287.75 175.85,289.32 176.25,290.94 176.65,291.73 177.05,292.80 177.45,292.93 177.85,293.47 178.25,295.52 178.65,295.77 179.05,296.10 179.45,296.94 179.85,298.40 180.25,297.89 180.65,299.05 181.05,299.43 181.45,301.81 181.85,302.65 182.25,304.83 182.65,301.89 183.05,303.23 183.45,305.37 183.85,304.68 184.25,305.02 184.65,307.61 185.05,305.84 185.45,305.34 185.85,305.52 186.25,307.67 186.65,307.97 187.05,306.42 187.45,307.15 187.85,309.13 188.25,309.45 188.65,308.32 189.05,310.01 189.45,310.18 189.85,307.67 190.25,309.58 190.65,310.62 191.05,309.64 191.45,307.98 191.85,310.32 192.25,311.70 192.65,312.83 193.05,308.49 193.45,314.34 193.85,310.00 194.25,312.61 194.65,313.06 195.05,312.86 195.45,311.96 195.85,310.47 196.25,312.72 196.65,311.18 197.05,309.06 197.45,315.65 197.85,313.14 198.25,314.56 198.65,311.29 199.05,314.26 199.45,314.47 199.85,314.48 200.25,312.60 200.65,311.20 201.05,312.50 201.45,310.05 201.85,310.71 202.25,312.95 202.65,311.65 203.05,312.71 203.45,312.81 203.85,315.36 204.25,314.61 204.65,312.98 205.05,314.55 205.45,312.11 205.85,312.69 206.25,314.25 206.65,311.61 207.05,312.82 207.45,311.54 207.85,313.35 208.25,315.25 208.65,312.30 209.05,313.53 209.45,312.15 209.85,311.84 210.25,311.75 210.65,315.11 211.05,316.25 211.45,313.92 211.85,312.44 212.25,314.22 212.65,312.93 213.05,314.36 213.45,313.73 213.85,313.72 214.25,314.14 214.65,312.66 215.05,312.89 215.45,311.25 215.85,312.85 216.25,311.63 216.65,313.23 217.05,312.22 217.45,313.55 217.85,313.99 218.25,311.66 218.65,312.42 219.05,312.26 219.45,314.37 219.85,315.58 220.25,314.51 220.65,313.02 221.05,315.28 221.45,311.57 221.85,315.33 222.25,312.64 222.65,309.99 223.05,316.78 223.45,315.44 223.85,312.18 224.25,313.68 224.65,313.20 225.05,313.60 225.45,311.62 225.85,312.63 226.25,314.06 226.65,313.76 227.05,314.98 227.45,313.58 227.85,316.42 228.25,312.59 228.65,313.81 229.05,311.09 229.45,311.92 229.85,315.15 230.25,312.31 230.65,314.15 231.05,313.41 231.45,312.18 231.85,313.05 232.25,312.85 232.65,312.88 233.05,314.43 233.45,314.31 233.85,312.77 234.25,312.36 234.65,313.85 235.05,313.37 235.45,314.78 235.85,316.81 236.25,314.55 236.65,313.45 237.05,313.28 237.45,312.42 237.85,312.36 238.25,312.24 238.65,313.00 239.05,312.96 239.45,314.43 239.85,313.00 240.25,313.25 240.65,311.97 241.05,315.55 241.45,314.13 242.90,314.13 242.90,328.40 51.35,328.40" fill="url(#gc)"/>
<polyline points="52.65,313.87 53.05,313.10 53.45,313.43 53.85,314.21 54.25,315.70 54.65,313.74 55.05,313.66 55.45,312.28 55.85,314.23 56.25,313.19 56.65,314.54 57.05,313.45 57.45,315.68 57.85,311.02 58.25,313.13 58.65,314.60 59.05,313.06 59.45,312.51 59.85,313.17 60.25,311.77 60.65,313.65 61.05,316.55 61.45,314.93 61.85,312.11 62.25,312.41 62.65,312.99 63.05,314.75 63.45,312.47 63.85,312.64 64.25,314.61 64.65,314.58 65.05,313.03 65.45,312.10 65.85,311.56 66.25,312.63 66.65,310.71 67.05,314.44 67.45,312.71 67.85,314.10 68.25,315.83 68.65,314.96 69.05,312.06 69.45,314.58 69.85,314.95 70.25,312.57 70.65,312.31 71.05,313.36 71.45,311.50 71.85,315.34 72.25,310.49 72.65,312.11 73.05,313.16 73.45,313.21 73.85,313.70 74.25,313.84 74.65,313.23 75.05,314.92 75.45,310.82 75.85,313.50 76.25,312.60 76.65,313.66 77.05,313.77 77.45,312.36 77.85,312.69 78.25,314.49 78.65,313.93 79.05,312.64 79.45,316.04 79.85,316.38 80.25,311.67 80.65,313.87 81.05,316.63 81.45,314.47 81.85,313.77 82.25,313.23 82.65,312.81 83.05,313.22 83.45,312.80 83.85,314.42 84.25,312.99 84.65,312.94 85.05,311.98 85.45,313.42 85.85,312.37 86.25,313.26 86.65,314.78 87.05,313.94 87.45,314.11 87.85,313.92 88.25,313.55 88.65,313.32 89.05,313.09 89.45,314.42 89.85,312.12 90.25,315.15 90.65,313.51 91.05,312.53 91.45,312.85 91.85,312.62 92.25,313.66 92.65,312.56 93.05,314.88 93.45,312.48 93.85,310.61 94.25,312.54 94.65,310.94 95.05,313.39 95.45,314.76 95.85,314.24 96.25,311.76 96.65,312.48 97.05,315.64 97.45,313.82 97.85,313.42 98.25,314.73 98.65,316.46 99.05,315.01 99.45,313.56 99.85,313.83 100.25,314.15 100.65,312.61 101.05,312.04 101.45,313.42 101.85,312.17 102.25,313.26 102.65,313.45 103.05,316.23 103.45,312.25 103.85,313.14 104.25,313.08 104.65,313.82 105.05,314.56 105.45,312.63 105.85,312.21 106.25,311.18 106.65,312.05 107.05,313.85 107.45,313.22 107.85,311.88 108.25,312.66 108.65,313.14 109.05,313.70 109.45,312.32 109.85,312.71 110.25,310.75 110.65,311.54 111.05,314.94 111.45,310.20 111.85,312.45 112.25,313.10 112.65,312.33 113.05,311.76 113.45,312.63 113.85,312.66 114.25,312.51 114.65,310.26 115.05,312.33 115.45,311.40 115.85,311.72 116.25,312.60 116.65,313.04 117.05,313.28 117.45,311.50 117.85,313.15 118.25,313.36 118.65,313.23 119.05,313.43 119.45,311.48 119.85,311.34 120.25,312.42 120.65,309.68 121.05,311.44 121.45,310.43 121.85,310.48 122.25,308.71 122.65,309.56 123.05,310.42 123.45,311.31 123.85,311.24 124.25,309.80 124.65,309.46 125.05,308.51 125.45,309.69 125.85,308.71 126.25,309.42 126.65,310.43 127.05,308.14 127.45,306.21 127.85,306.61 128.25,305.62 128.65,305.56 129.05,307.90 129.45,306.34 129.85,304.07 130.25,305.93 130.65,306.10 131.05,303.93 131.45,303.11 131.85,302.92 132.25,302.98 132.65,302.73 133.05,302.62 133.45,301.97 133.85,301.24 134.25,300.66 134.65,299.25 135.05,296.50 135.45,296.91 135.85,296.42 136.25,294.92 136.65,295.02 137.05,293.00 137.45,291.52 137.85,292.22 138.25,290.49 138.65,288.97 139.05,288.21 139.45,286.99 139.85,285.17 140.25,282.07 140.65,281.73 141.05,280.37 141.45,278.55 141.85,277.57 142.25,276.39 142.65,273.89 143.05,271.87 143.45,271.36 143.85,268.53 144.25,266.37 144.65,264.93 145.05,263.00 145.45,260.66 145.85,258.99 146.25,256.60 146.65,254.42 147.05,252.51 147.45,250.46 147.85,248.10 148.25,246.08 148.65,243.88 149.05,242.02 149.45,239.59 149.85,237.66 150.25,235.53 150.65,233.53 151.05,231.62 151.45,229.75 151.85,227.95 152.25,226.21 152.65,224.58 153.05,223.06 153.45,221.65 153.85,220.36 154.25,219.19 154.65,218.15 155.05,217.26 155.45,216.50 155.85,215.90 156.25,215.45 156.65,215.15 157.05,215.01 157.45,215.03 157.85,215.21 158.25,215.54 158.65,216.03 159.05,216.68 159.45,217.47 159.85,218.40 160.25,219.47 160.65,220.67 161.05,221.99 161.45,223.43 161.85,224.98 162.25,226.66 162.65,228.33 163.05,230.19 163.45,232.04 163.85,234.04 164.25,236.08 164.65,238.08 165.05,240.24 165.45,242.14 165.85,244.55 166.25,246.49 166.65,248.81 167.05,250.90 167.45,252.53 167.85,254.98 168.25,257.29 168.65,259.71 169.05,261.44 169.45,263.45 169.85,264.88 170.25,267.78 170.65,269.85 171.05,271.02 171.45,272.70 171.85,273.80 172.25,276.66 172.65,279.25 173.05,279.85 173.45,281.71 173.85,282.80 174.25,283.31 174.65,286.14 175.05,285.80 175.45,287.75 175.85,289.32 176.25,290.94 176.65,291.73 177.05,292.80 177.45,292.93 177.85,293.47 178.25,295.52 178.65,295.77 179.05,296.10 179.45,296.94 179.85,298.40 180.25,297.89 180.65,299.05 181.05,299.43 181.45,301.81 181.85,302.65 182.25,304.83 182.65,301.89 183.05,303.23 183.45,305.37 183.85,304.68 184.25,305.02 184.65,307.61 185.05,305.84 185.45,305.34 185.85,305.52 186.25,307.67 186.65,307.97 187.05,306.42 187.45,307.15 187.85,309.13 188.25,309.45 188.65,308.32 189.05,310.01 189.45,310.18 189.85,307.67 190.25,309.58 190.65,310.62 191.05,309.64 191.45,307.98 191.85,310.32 192.25,311.70 192.65,312.83 193.05,308.49 193.45,314.34 193.85,310.00 194.25,312.61 194.65,313.06 195.05,312.86 195.45,311.96 195.85,310.47 196.25,312.72 196.65,311.18 197.05,309.06 197.45,315.65 197.85,313.14 198.25,314.56 198.65,311.29 199.05,314.26 199.45,314.47 199.85,314.48 200.25,312.60 200.65,311.20 201.05,312.50 201.45,310.05 201.85,310.71 202.25,312.95 202.65,311.65 203.05,312.71 203.45,312.81 203.85,315.36 204.25,314.61 204.65,312.98 205.05,314.55 205.45,312.11 205.85,312.69 206.25,314.25 206.65,311.61 207.05,312.82 207.45,311.54 207.85,313.35 208.25,315.25 208.65,312.30 209.05,313.53 209.45,312.15 209.85,311.84 210.25,311.75 210.65,315.11 211.05,316.25 211.45,313.92 211.85,312.44 212.25,314.22 212.65,312.93 213.05,314.36 213.45,313.73 213.85,313.72 214.25,314.14 214.65,312.66 215.05,312.89 215.45,311.25 215.85,312.85 216.25,311.63 216.65,313.23 217.05,312.22 217.45,313.55 217.85,313.99 218.25,311.66 218.65,312.42 219.05,312.26 219.45,314.37 219.85,315.58 220.25,314.51 220.65,313.02 221.05,315.28 221.45,311.57 221.85,315.33 222.25,312.64 222.65,309.99 223.05,316.78 223.45,315.44 223.85,312.18 224.25,313.68 224.65,313.20 225.05,313.60 225.45,311.62 225.85,312.63 226.25,314.06 226.65,313.76 227.05,314.98 227.45,313.58 227.85,316.42 228.25,312.59 228.65,313.81 229.05,311.09 229.45,311.92 229.85,315.15 230.25,312.31 230.65,314.15 231.05,313.41 231.45,312.18 231.85,313.05 232.25,312.85 232.65,312.88 233.05,314.43 233.45,314.31 233.85,312.77 234.25,312.36 234.65,313.85 235.05,313.37 235.45,314.78 235.85,316.81 236.25,314.55 236.65,313.45 237.05,313.28 237.45,312.42 237.85,312.36 238.25,312.24 238.65,313.00 239.05,312.96 239.45,314.43 239.85,313.00 240.25,313.25 240.65,311.97 241.05,315.55 241.45,314.13" fill="none" stroke="#cc6c92" stroke-width="2.8" stroke-linejoin="round"/>
<text transform="translate(50.00,347.20) scale(1,1.0)" font-size="16" text-anchor="middle" font-weight="bold" fill="#000" ><tspan dx="-0.7" dy="0.5" stroke="#000" stroke-width="0.3">–</tspan><tspan dx="0.7" dy="-0.5">5</tspan></text>
<text transform="translate(147.10,347.20) scale(1,1.0)" font-size="16" text-anchor="middle" font-weight="bold" fill="#000" >0</text>
<text transform="translate(241.80,347.20) scale(1,1.0)" font-size="16" text-anchor="middle" font-weight="bold" fill="#000" >5</text>
<text transform="translate(147.10,362.30) scale(1,1.0)" font-size="16" text-anchor="middle" font-weight="bold" fill="#000" >Time (ns)</text>
<text transform="translate(13.00,261.50) rotate(-90) scale(1,1.0)" font-size="16" text-anchor="middle" font-weight="bold" fill="#000">Intensity (a.u.)</text>
<line x1="151.00" y1="266.90" x2="164.00" y2="266.90" stroke="#a89aa0" stroke-width="1.0"/>
<polygon points="146.2,266.9 153.6,264.7 152.2,266.9 153.6,269.1" fill="#111"/>
<polygon points="168.8,266.9 161.4,264.7 162.8,266.9 161.4,269.1" fill="#111"/>
<text transform="translate(176.00,265.80) scale(1,1.0)" font-size="16" text-anchor="start" font-weight="bold" fill="#763a0e" >1.38 ns</text>
<text transform="translate(272.00,200.80) scale(1,0.87)" font-size="16" text-anchor="middle" font-weight="normal" fill="#000" >(d)</text>
<polygon points="320.00,318.62 320.70,318.89 321.40,318.92 322.10,319.30 322.80,318.35 323.50,318.98 324.20,319.14 324.90,319.40 325.60,318.47 326.30,319.74 327.00,319.17 327.70,318.88 328.40,318.06 329.10,315.12 329.80,317.37 330.50,316.10 331.20,317.34 331.90,317.08 332.60,317.53 333.30,318.29 334.00,318.90 334.70,319.13 335.40,318.54 336.10,318.96 336.80,318.22 337.50,317.78 338.20,317.94 338.90,317.55 339.60,319.11 340.30,315.41 341.00,318.60 341.70,319.04 342.40,318.48 343.10,318.45 343.80,318.33 344.50,317.98 345.20,317.65 345.90,318.73 346.60,318.14 347.30,317.64 348.00,317.75 348.70,318.23 349.40,318.11 350.10,316.98 350.80,318.11 351.50,318.36 352.20,318.12 352.90,316.59 353.60,316.37 354.30,317.18 355.00,316.84 355.70,317.51 356.40,317.25 357.10,316.70 357.80,315.17 358.50,317.71 359.20,318.17 359.90,318.45 360.60,317.17 361.30,318.24 362.00,318.85 362.70,318.44 363.40,316.27 364.10,315.99 364.80,319.20 365.50,317.98 366.20,318.60 366.90,318.63 367.60,318.55 368.30,318.08 369.00,317.89 369.70,317.78 370.40,318.23 371.10,315.21 371.80,317.63 372.50,317.11 373.20,316.91 373.90,316.87 374.60,317.76 375.30,317.84 376.00,318.92 376.70,319.48 377.40,318.97 378.10,319.94 378.80,319.68 379.50,319.66 380.20,319.65 380.90,319.93 381.60,318.70 382.30,318.21 383.00,318.71 383.70,317.82 384.40,317.56 385.10,316.88 385.80,317.18 386.50,316.58 387.20,317.42 387.90,317.68 388.60,316.83 389.30,317.18 390.00,318.28 390.70,317.76 391.40,317.42 392.10,318.18 392.80,318.73 393.50,318.25 394.20,318.97 394.90,319.03 395.60,318.15 396.30,319.04 397.00,319.12 397.70,318.48 398.40,318.01 399.10,317.28 399.80,317.60 400.50,316.84 401.20,317.36 401.90,317.33 402.60,317.56 403.30,312.71 404.00,318.58 404.70,318.60 405.40,318.52 406.10,317.60 406.80,319.63 407.50,318.83 408.20,318.52 408.90,319.09 409.60,318.23 410.30,318.86 411.00,318.85 411.70,318.50 412.40,319.58 413.10,318.29 413.80,318.98 414.50,318.48 415.20,317.34 415.90,317.83 416.60,319.04 417.30,318.13 418.00,318.43 418.70,318.01 419.40,318.60 420.10,318.90 420.80,318.98 421.50,319.88 422.20,320.04 422.90,320.65 423.60,320.07 424.30,319.15 425.00,319.19 425.70,318.00 426.40,319.09 427.10,318.98 427.80,316.77 428.50,318.32 429.20,318.10 429.90,318.61 430.60,317.35 431.30,317.81 432.00,318.20 432.70,318.06 433.40,318.39 434.10,318.59 434.80,318.31 435.50,318.24 436.20,318.57 436.90,318.42 437.60,318.38 438.30,319.24 439.00,317.95 439.70,318.95 440.40,319.87 441.10,320.16 441.80,319.79 442.50,318.46 443.20,318.32 443.90,317.82 444.60,318.26 445.30,315.61 446.00,317.51 446.70,318.80 447.40,318.58 448.10,318.88 448.80,316.41 449.50,318.13 450.20,317.45 450.90,318.28 451.60,317.87 452.30,317.96 453.00,317.50 453.70,316.94 454.40,316.89 455.10,316.78 455.80,315.95 456.50,316.18 457.20,315.58 457.90,316.38 458.60,316.17 459.30,317.44 460.00,318.85 460.70,318.18 461.40,320.03 462.10,319.24 462.80,318.78 463.50,320.36 464.20,319.80 464.90,320.70 465.60,319.41 466.30,319.60 467.00,320.31 467.70,318.99 468.40,320.05 469.10,319.78 469.80,319.52 470.50,317.67 471.20,319.23 471.90,318.65 472.60,318.65 473.30,318.30 474.00,319.17 474.70,317.76 475.40,318.94 476.10,319.09 476.80,318.31 477.50,319.03 478.20,317.38 478.90,319.00 479.60,318.55 480.30,318.52 481.00,318.04 481.70,319.87 482.40,319.09 483.10,319.71 483.80,316.02 484.50,319.22 485.20,319.43 485.90,319.63 486.60,319.86 487.30,318.70 488.00,320.04 488.70,320.03 489.40,319.49 490.10,316.35 490.80,320.48 491.50,319.63 492.20,317.74 492.90,320.91 493.60,320.84 494.30,318.99 495.00,319.26 495.70,318.69 496.40,318.81 497.10,320.07 497.80,319.99 498.50,320.16 499.20,320.27 499.90,321.18 500.60,320.16 501.30,320.44 502.00,320.77 502.70,321.11 503.40,319.88 504.10,319.73 504.80,320.68 505.50,319.52 506.20,318.76 506.90,319.92 507.60,319.09 507.60,327.13 506.90,326.77 506.20,327.38 505.50,328.28 504.80,327.96 504.10,326.98 503.40,327.70 502.70,328.30 502.00,328.12 501.30,328.30 500.60,327.99 499.90,328.30 499.20,328.04 498.50,328.07 497.80,328.30 497.10,327.22 496.40,326.01 495.70,326.58 495.00,326.06 494.30,327.15 493.60,327.55 492.90,328.30 492.20,327.69 491.50,327.69 490.80,328.28 490.10,328.30 489.40,327.38 488.70,328.12 488.00,327.60 487.30,326.72 486.60,326.98 485.90,327.36 485.20,326.47 484.50,327.46 483.80,327.77 483.10,327.27 482.40,326.79 481.70,327.25 481.00,326.60 480.30,327.34 479.60,326.06 478.90,327.28 478.20,325.83 477.50,326.20 476.80,326.67 476.10,327.07 475.40,326.23 474.70,326.99 474.00,326.98 473.30,326.60 472.60,327.27 471.90,327.15 471.20,326.91 470.50,326.49 469.80,327.35 469.10,326.78 468.40,326.74 467.70,327.81 467.00,327.91 466.30,327.91 465.60,327.68 464.90,328.30 464.20,328.23 463.50,328.30 462.80,328.02 462.10,327.38 461.40,327.31 460.70,327.17 460.00,325.90 459.30,326.54 458.60,325.87 457.90,325.34 457.20,326.28 456.50,325.93 455.80,326.21 455.10,326.84 454.40,326.80 453.70,325.56 453.00,325.50 452.30,325.49 451.60,325.05 450.90,326.78 450.20,325.66 449.50,325.26 448.80,325.30 448.10,325.87 447.40,325.44 446.70,325.61 446.00,325.19 445.30,325.36 444.60,325.98 443.90,325.29 443.20,325.57 442.50,326.90 441.80,327.64 441.10,327.23 440.40,327.17 439.70,327.48 439.00,326.08 438.30,326.71 437.60,325.82 436.90,326.06 436.20,326.60 435.50,326.60 434.80,326.37 434.10,325.82 433.40,325.74 432.70,326.63 432.00,327.03 431.30,326.33 430.60,325.55 429.90,325.37 429.20,325.95 428.50,326.30 427.80,325.61 427.10,326.06 426.40,325.86 425.70,327.16 425.00,327.16 424.30,327.86 423.60,328.06 422.90,328.30 422.20,327.29 421.50,327.96 420.80,326.48 420.10,325.91 419.40,326.66 418.70,326.29 418.00,326.05 417.30,326.40 416.60,326.52 415.90,325.34 415.20,325.57 414.50,326.23 413.80,326.31 413.10,327.29 412.40,326.49 411.70,326.36 411.00,325.74 410.30,326.47 409.60,327.05 408.90,326.90 408.20,326.69 407.50,326.24 406.80,327.06 406.10,326.98 405.40,325.46 404.70,325.79 404.00,326.38 403.30,326.00 402.60,325.30 401.90,324.70 401.20,324.63 400.50,324.48 399.80,324.70 399.10,325.50 398.40,325.43 397.70,325.74 397.00,326.69 396.30,326.21 395.60,327.56 394.90,326.44 394.20,326.12 393.50,325.54 392.80,326.10 392.10,326.20 391.40,325.31 390.70,326.15 390.00,325.73 389.30,325.20 388.60,325.38 387.90,324.71 387.20,324.93 386.50,325.56 385.80,324.86 385.10,325.48 384.40,324.99 383.70,325.01 383.00,326.26 382.30,325.72 381.60,326.00 380.90,327.08 380.20,327.56 379.50,326.93 378.80,327.08 378.10,327.01 377.40,326.35 376.70,327.27 376.00,326.58 375.30,325.60 374.60,325.22 373.90,325.28 373.20,324.31 372.50,326.01 371.80,325.92 371.10,325.85 370.40,325.42 369.70,327.06 369.00,326.69 368.30,325.80 367.60,325.89 366.90,326.31 366.20,326.12 365.50,326.84 364.80,326.26 364.10,326.12 363.40,326.69 362.70,326.57 362.00,326.68 361.30,325.75 360.60,326.34 359.90,326.01 359.20,326.48 358.50,325.75 357.80,325.57 357.10,324.47 356.40,324.94 355.70,325.07 355.00,323.86 354.30,324.19 353.60,324.91 352.90,324.90 352.20,324.94 351.50,325.68 350.80,325.45 350.10,325.72 349.40,325.80 348.70,325.96 348.00,326.03 347.30,325.86 346.60,325.54 345.90,325.65 345.20,325.80 344.50,326.06 343.80,325.92 343.10,325.67 342.40,325.90 341.70,327.07 341.00,326.57 340.30,325.91 339.60,327.01 338.90,325.20 338.20,324.85 337.50,325.90 336.80,325.69 336.10,326.28 335.40,326.51 334.70,326.11 334.00,326.38 333.30,325.45 332.60,324.87 331.90,325.24 331.20,324.17 330.50,325.40 329.80,324.73 329.10,325.20 328.40,325.67 327.70,326.21 327.00,328.01 326.30,326.71 325.60,325.98 324.90,327.21 324.20,327.22 323.50,325.92 322.80,327.54 322.10,326.69 321.40,326.80 320.70,326.21 320.00,326.05" fill="#c96b8f"/>
<rect x="455.5" y="242.8" width="2.2" height="80" fill="#c96d90"/>
<rect x="319.0" y="204.8" width="189.39999999999998" height="123.80000000000001" fill="none" stroke="#222" stroke-width="1.35"/>
<line x1="319.00" y1="217.50" x2="324.50" y2="217.50" stroke="#222" stroke-width="1.25"/>
<text transform="translate(312.00,222.80) scale(1,1.0)" font-size="16" text-anchor="end" font-weight="bold" fill="#000" ><tspan dx="-0.7" dy="0.5" stroke="#000" stroke-width="0.3">–</tspan><tspan dx="0.7" dy="-0.5">30</tspan></text>
<line x1="319.00" y1="254.50" x2="324.50" y2="254.50" stroke="#222" stroke-width="1.25"/>
<text transform="translate(312.00,259.80) scale(1,1.0)" font-size="16" text-anchor="end" font-weight="bold" fill="#000" ><tspan dx="-0.7" dy="0.5" stroke="#000" stroke-width="0.3">–</tspan><tspan dx="0.7" dy="-0.5">60</tspan></text>
<line x1="319.00" y1="291.50" x2="324.50" y2="291.50" stroke="#222" stroke-width="1.25"/>
<text transform="translate(312.00,296.80) scale(1,1.0)" font-size="16" text-anchor="end" font-weight="bold" fill="#000" ><tspan dx="-0.7" dy="0.5" stroke="#000" stroke-width="0.3">–</tspan><tspan dx="0.7" dy="-0.5">90</tspan></text>
<line x1="319.00" y1="328.50" x2="324.50" y2="328.50" stroke="#222" stroke-width="1.25"/>
<text transform="translate(312.00,333.80) scale(1,1.0)" font-size="16" text-anchor="end" font-weight="bold" fill="#000" ><tspan dx="-0.7" dy="0.5" stroke="#000" stroke-width="0.3">–</tspan><tspan dx="0.7" dy="-0.5">120</tspan></text>
<line x1="319.00" y1="236.00" x2="321.50" y2="236.00" stroke="#333" stroke-width="1.0"/>
<line x1="319.00" y1="273.00" x2="321.50" y2="273.00" stroke="#333" stroke-width="1.0"/>
<line x1="319.00" y1="310.00" x2="321.50" y2="310.00" stroke="#333" stroke-width="1.0"/>
<text transform="translate(318.50,347.30) scale(1,1.0)" font-size="16" text-anchor="middle" font-weight="bold" fill="#000" >0.4</text>
<text transform="translate(372.85,347.30) scale(1,1.0)" font-size="16" text-anchor="middle" font-weight="bold" fill="#000" >0.6</text>
<text transform="translate(427.20,347.30) scale(1,1.0)" font-size="16" text-anchor="middle" font-weight="bold" fill="#000" >0.8</text>
<text transform="translate(481.55,347.30) scale(1,1.0)" font-size="16" text-anchor="middle" font-weight="bold" fill="#000" >1.0</text>
<line x1="372.85" y1="328.60" x2="372.85" y2="324.60" stroke="#222" stroke-width="1.2"/>
<line x1="427.20" y1="328.60" x2="427.20" y2="324.60" stroke="#222" stroke-width="1.2"/>
<line x1="481.55" y1="328.60" x2="481.55" y2="324.60" stroke="#222" stroke-width="1.2"/>
<line x1="345.68" y1="328.60" x2="345.68" y2="326.10" stroke="#222" stroke-width="1.0"/>
<line x1="400.02" y1="328.60" x2="400.02" y2="326.10" stroke="#222" stroke-width="1.0"/>
<line x1="454.38" y1="328.60" x2="454.38" y2="326.10" stroke="#222" stroke-width="1.0"/>
<text transform="translate(419.50,363.30) scale(1,1.0)" font-size="16" text-anchor="middle" font-weight="bold" fill="#000" >Frequency (MHz)</text>
<text transform="translate(279.20,266.40) rotate(-90) scale(1,1.0)" font-size="16" text-anchor="middle" font-weight="bold" fill="#000">Intensity (dBm)</text>
<text transform="translate(464.80,285.20) scale(1,1.0)" font-size="16" text-anchor="start" font-weight="bold" fill="#763a0e" >57 dB</text>
<rect x="346.5" y="211.4" width="105.10000000000002" height="82.70000000000002" fill="#fff" stroke="#333" stroke-width="1.1"/>
<clipPath id="cj"><rect x="346.5" y="211.4" width="105.10000000000002" height="82.70000000000002"/></clipPath>
<polyline clip-path="url(#cj)" points="347.30,233.40 348.16,293.75 349.24,233.00 349.90,291.87 351.24,233.49 352.23,293.51 353.10,233.13 353.96,293.68 355.06,233.08 355.96,293.35 357.01,233.29 358.22,293.11 358.92,233.52 360.03,292.83 360.89,233.37 361.75,291.09 362.95,233.66 364.01,292.24 364.74,233.07 365.74,293.39 366.87,233.13 367.95,292.42 368.86,233.05 369.75,292.82 370.77,233.07 371.78,292.49 372.59,233.26 373.29,292.41 374.69,233.95 375.54,293.45 376.40,233.91 376.97,294.05 378.50,233.32 379.42,293.19 380.30,233.28 381.09,292.68 382.33,233.39 383.23,293.03 384.08,233.41 385.09,291.69 385.99,233.27 386.84,292.96 387.81,233.34 388.66,293.69 389.72,233.30 390.59,292.50 391.49,233.20 392.59,294.60 393.56,233.09 394.48,293.21 395.46,233.51 396.56,292.23 397.29,233.48 398.29,292.71 399.34,233.14 400.26,292.53 401.02,233.30 401.79,292.45 402.84,233.25 403.79,292.91 404.55,233.03 405.29,293.15 406.51,233.01 407.77,293.32 408.49,233.05 409.42,293.67 410.53,233.46 411.65,293.31 412.56,233.16 413.33,291.96 414.69,233.09 415.43,293.18 416.56,233.65 417.17,291.62 418.50,233.02 419.42,293.13 420.48,233.74 421.39,292.24 422.24,233.19 423.18,292.69 423.98,233.17 425.24,292.06 425.69,233.10 426.73,293.27 427.47,233.35 428.30,291.99 429.30,233.04 430.37,293.40 431.21,233.33 432.18,293.62 432.95,233.55 434.03,291.79 434.83,233.03 435.71,292.54 436.91,233.89 438.00,294.74 438.82,233.01 439.89,294.36 440.59,233.03 441.52,293.35 442.52,233.23 443.41,292.94 444.35,233.23 445.28,292.79 446.12,233.55 447.06,291.79 448.16,233.26 449.20,292.89 450.10,233.06 450.97,292.93" fill="none" stroke="#4f528a" stroke-width="0.6" stroke-linejoin="miter" stroke-miterlimit="20"/>
<line x1="346.50" y1="211.60" x2="349.00" y2="211.60" stroke="#222" stroke-width="1"/>
<text transform="translate(346.00,214.00) scale(1,1.0)" font-size="7.5" text-anchor="end" font-weight="bold" fill="#000" >−30</text>
<line x1="346.50" y1="243.30" x2="349.00" y2="243.30" stroke="#222" stroke-width="1"/>
<text transform="translate(346.00,245.70) scale(1,1.0)" font-size="7.5" text-anchor="end" font-weight="bold" fill="#000" >−60</text>
<line x1="346.50" y1="275.00" x2="349.00" y2="275.00" stroke="#222" stroke-width="1"/>
<text transform="translate(346.00,277.40) scale(1,1.0)" font-size="7.5" text-anchor="end" font-weight="bold" fill="#000" >−90</text>
<text transform="translate(347.20,302.30) scale(1,1.0)" font-size="7.5" text-anchor="middle" font-weight="bold" fill="#000" >0</text>
<text transform="translate(399.50,302.30) scale(1,1.0)" font-size="7.5" text-anchor="middle" font-weight="bold" fill="#000" >25</text>
<text transform="translate(451.60,302.30) scale(1,1.0)" font-size="7.5" text-anchor="middle" font-weight="bold" fill="#000" >50</text>
<text transform="translate(399.00,309.60) scale(1,1.0)" font-size="9.5" text-anchor="middle" font-weight="bold" fill="#000" >Frequency (MHz)</text>
<text transform="translate(332.30,250.00) rotate(-90) scale(1,1.0)" font-size="9.5" text-anchor="middle" font-weight="bold" fill="#000">Intensity (dBm)</text>
</svg></body></html>
